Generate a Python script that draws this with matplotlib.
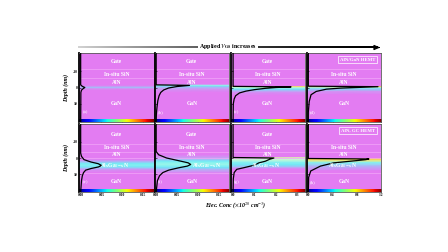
import numpy as np
import matplotlib.pyplot as plt
from matplotlib.colors import LinearSegmentedColormap, Normalize

plt.rcParams['font.family'] = ['Liberation Serif', 'DejaVu Serif']
plt.rcParams['mathtext.fontset'] = 'stix'

# electron concentration (x1e20 cm^-3) vs depth (nm)
depth_a = [-21, -1.6, -0.7, 0.0, 0.7, 1.6, 3.0, 21]
conc_a = [0, 0, 0.004, 0.010, 0.006, 0.002, 0.0005, 0]
depth_b = [-21, -1.6, -1.3, -0.6, 0.3, 1.5, 3.0, 5.0, 8.0, 12.0, 16.0, 21]
conc_b = [0, 0, 0.080, 0.050, 0.030, 0.018, 0.011, 0.007, 0.004, 0.002, 0.0005, 0]
depth_c = [-21, -0.7, -0.4, 0.0, 0.5, 1.3, 2.2, 3.3, 5.0, 7.0, 10.0, 21]
conc_c = [0, 0, 0.270, 0.200, 0.150, 0.100, 0.060, 0.030, 0.012, 0.005, 0.001, 0]
depth_d = [-21, -0.8, -0.5, 0.4, 1.0, 2.4, 4.4, 8.5, 15.0, 21]
conc_d = [0, 0, 1.15, 0.52, 0.30, 0.13, 0.045, 0.015, 0, 0]
depth_e = [-21, -3.0, -1.0, 1.0, 2.5, 3.5, 4.6, 5.5, 6.5, 7.5, 9.0, 11.0, 14.0, 21]
conc_e = [0, 0, 0.002, 0.008, 0.025, 0.042, 0.050, 0.043, 0.025, 0.012, 0.007, 0.004, 0.002, 0]
depth_f = [-21, -4.0, -2.0, 0.0, 2.0, 3.0, 4.0, 5.0, 6.0, 7.5, 9.0, 11.0, 14.0, 21]
conc_f = [0, 0, 0.006, 0.025, 0.060, 0.077, 0.083, 0.075, 0.055, 0.030, 0.016, 0.008, 0.003, 0]
depth_g = [-21, -0.3, 0.0, 0.8, 2.0, 3.0, 4.4, 6.0, 7.0, 9.0, 13.0, 21]
conc_g = [0, 0, 0.190, 0.170, 0.150, 0.120, 0.100, 0.050, 0.017, 0.005, 0.001, 0]
depth_h = [-21, 0.3, 0.6, 1.0, 1.6, 3.0, 5.0, 8.0, 12.0, 21]
conc_h = [0, 0, 1.00, 0.95, 0.80, 0.42, 0.20, 0.04, 0.005, 0]

profiles = [(depth_a, conc_a), (depth_b, conc_b), (depth_c, conc_c), (depth_d, conc_d),
            (depth_e, conc_e), (depth_f, conc_f), (depth_g, conc_g), (depth_h, conc_h)]
letters = ['(a)', '(b)', '(c)', '(d)', '(e)', '(f)', '(g)', '(h)']
# colour level reached at the peak of each panel's colour map
peak_level = [0.30, 0.50, 0.75, 0.88, 0.46, 0.50, 0.62, 0.84]

# x axis per column
col_xlim = [(-0.004, 0.175), (-0.004, 0.175), (-0.012, 0.335), (-0.03, 1.2)]
col_xticks = [[0, 0.05, 0.10, 0.15], [0, 0.05, 0.10, 0.15], [0, 0.1, 0.2, 0.3], [0, 0.4, 0.8, 1.2]]
col_xticklabels = [['0.00', '0.05', '0.10', '0.15'], ['0.00', '0.05', '0.10', '0.15'],
                   ['0.0', '0.1', '0.2', '0.3'], ['0.0', '0.4', '0.8', '1.2']]

# layer boundaries (nm)
row_bounds = [[-11, -5.5], [-8.5, -3.8, 0, 9]]
algan_x = [0.48, 0.70, 0.47, 0.48]

base = '#E37CF2'
cmap = LinearSegmentedColormap.from_list('conc', [
    (0.0, base), (0.12, base), (0.22, '#C8A0F4'), (0.30, '#9CC4F8'), (0.38, '#6EE6F6'),
    (0.48, '#8AF4F0'), (0.56, '#C8F8D8'), (0.66, '#E6F494'), (0.80, '#F6D458'),
    (1.0, '#F6A040')])

fig = plt.figure(figsize=(4.48, 2.52), dpi=100)
W, H = 448.0, 252.0
col_left = [79, 154.5, 230.5, 306.5]
row_top = [53, 124]
row_h = [69, 68]
pw = 74.5

for i, (depth, conc) in enumerate(profiles):
    r, c = divmod(i, 4)
    ax = fig.add_axes([col_left[c] / W, 1 - (row_top[r] + row_h[r]) / H, pw / W, row_h[r] / H])
    x0, x1 = col_xlim[c]
    conc_arr = np.array(conc)
    level = peak_level[i] * (conc_arr / conc_arr.max()) ** 0.7
    X, Y = np.meshgrid([x0, x1], depth)
    C = np.column_stack([level, level])
    ax.pcolormesh(X, Y, C, cmap=cmap, norm=Normalize(0, 1), shading='gouraud', zorder=0)
    for b in row_bounds[r]:
        ax.axhline(b, color='#F2A6F8', lw=0.5, zorder=1)
    # rainbow strip along the bottom edge
    ax.imshow(np.linspace(0, 1, 256)[None, :], cmap='jet', aspect='auto',
              extent=[x0, x1, 21, 19.6], zorder=2)
    ax.plot(conc, depth, color='black', lw=0.9, zorder=3)
    ax.set_xlim(x0, x1)
    ax.set_ylim(21, -21)

    # layer names
    tk = dict(color='white', fontsize=4, ha='center', va='center', fontweight='bold')
    tr = ax.get_yaxis_transform()
    if r == 0:
        if c != 3:
            ax.text(0.5, -16, 'Gate', transform=tr, **tk)
        ax.text(0.5, -7.8, 'In-situ SiN', transform=tr, **tk)
        ax.text(0.5, -2.8, 'AlN', transform=tr, **tk)
        ax.text(0.5, 9.8, 'GaN', transform=tr, **tk)
    else:
        if c != 3:
            ax.text(0.5, -14.8, 'Gate', transform=tr, **tk)
        ax.text(0.5, -6.4, 'In-situ SiN', transform=tr, **tk)
        ax.text(0.5, -1.9, 'AlN', transform=tr, **tk)
        ax.text(algan_x[c], 4.9, r'Al$_\mathbf{x}$Ga$_\mathbf{1-x}$N', transform=tr, **tk)
        ax.text(0.5, 14.8, 'GaN', transform=tr, **tk)
    ax.text(0.05, 0.15, letters[i], transform=ax.transAxes, color='white',
            fontsize=3.5, ha='left', va='center')
    if c == 3:
        label = 'AlN/GaN HEMT' if r == 0 else 'AlN, GC HEMT'
        ax.text(0.69, 0.905, label, transform=ax.transAxes, color='white', fontsize=3.5,
                fontweight='bold', ha='center', va='center',
                bbox=dict(boxstyle='square,pad=0.35', fc='none', ec='white', lw=0.5))

    for s in ax.spines.values():
        s.set_color('#5a5a5a')
        s.set_linewidth(0.6)
    ax.spines['left'].set_color('black')
    ax.spines['left'].set_linewidth(1.3)
    ax.tick_params(direction='in', length=1.2, width=0.4, labelsize=2.6, pad=1)
    ax.set_yticks([-10, 0, 10])
    if c == 0:
        ax.set_yticklabels(['-10', '0', '10'], fontweight='bold')
    else:
        ax.set_yticklabels([])
    ax.set_xticks(col_xticks[c])
    if r == 1:
        ax.set_xticklabels(col_xticklabels[c], fontweight='bold')
    else:
        ax.set_xticklabels([])

# axis titles
for r in range(2):
    yc = 1 - (row_top[r] + row_h[r] / 2) / H
    fig.text(66 / W, yc, 'Depth (nm)', rotation=90, ha='center', va='center',
             fontsize=4.2, fontweight='bold', style='italic')
fig.text(236 / W, 1 - 206 / H, r'Elec. Conc ($\times$10$^{20}$ cm$^{-3}$)', ha='center',
         va='center', fontsize=4.2, fontweight='bold', style='italic')

# "Applied V_GS increases" arrow with a grey-to-black gradient
top = fig.add_axes([0, 0, 1, 1], zorder=-1)
top.set_xlim(0, W)
top.set_ylim(H, 0)
top.axis('off')
ramp = np.linspace(0.88, 0.0, 300)[None, :] ** 1.5
top.imshow(ramp, cmap='gray', vmin=0, vmax=1, aspect='auto',
           extent=[78, 378, 48.1, 46.9], interpolation='bilinear')
top.annotate('', xy=(383, 47.5), xytext=(376, 47.5),
             arrowprops=dict(arrowstyle='-|>,head_length=0.35,head_width=0.15',
                             color='black', lw=0.8))
top.text(228, 46.5, r'Applied $\mathbf{\mathit{V}_{GS}}$ increases', ha='center', va='center',
         fontsize=4.3, fontweight='bold', bbox=dict(fc='white', ec='none', pad=0.6))
top.set_xlim(0, W)
top.set_ylim(H, 0)

fig.savefig('out.png', dpi=100)
